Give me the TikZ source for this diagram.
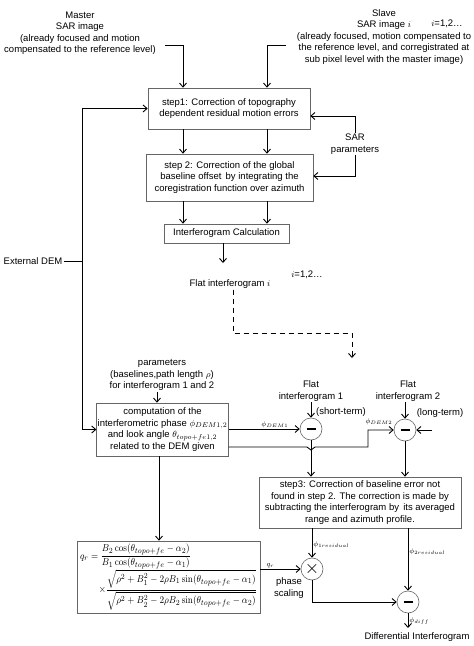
\documentclass[tikz,border=0pt]{standalone}
\usepackage[no-math]{fontspec}
\setmainfont{Liberation Sans}
\usepackage{amsmath}
\usepackage{graphicx}
\usetikzlibrary{arrows.meta,calc}
\begin{document}
\begin{tikzpicture}[x=1pt,y=-1pt,
 every node/.style={font=\fontsize{9.5}{11.5}\selectfont, inner sep=1pt},
 box/.style={draw=black!60, line width=0.6pt, align=center, inner sep=2pt},
 txt/.style={align=center},
 lbl/.style={font=\fontsize{7}{8}\selectfont},
 arr/.style={line width=0.9pt, -{Straight Barb[length=4pt,width=7pt,line width=0.9pt]}},
 ln/.style={line width=0.9pt},
 circ/.style={circle, draw=black!60, line width=0.6pt, minimum size=22pt, inner sep=0pt, fill=white},
]
\useasboundingbox (0,0) rectangle (474,646);

% inputs
\node[txt] (master) at (80,33) {Master\\SAR image\\(already focused and motion\\compensated to the reference level)};
\node[txt] (slave) at (384,37) {Slave\\SAR image $i$\\(already focused, motion compensated to\\the reference level, and corregistrated at\\sub pixel level with the master image)};
\node[txt] (sli) at (447,24) {$i$=1,2\dots};
\coordinate (mA) at (165,45);
\coordinate (sA) at (286,45);
\coordinate (cL) at (183,0);
\coordinate (cR) at (267,0);

% steps 1,2
\node[box, minimum width=162pt, minimum height=41pt] (s1) at (229,108.5) {step1: Correction of topography\\dependent residual motion errors};
\node[box, minimum width=167pt, minimum height=47pt] (s2) at (229.5,177.5) {step 2: Correction of the global\\baseline offset\, by integrating the\\coregistration function over azimuth};
\node[box, minimum width=125pt, minimum height=19pt] (ic) at (226.5,233.5) {Interferogram Calculation};
\node[txt] (sarp) at (355,144) {SAR\\parameters};

\draw[arr] (mA) -| (s1.north -| cL);
\draw[arr] (sA) -| (s1.north -| cR);
\draw[arr] (s1.south -| cL) -- (s2.north -| cL);
\draw[arr] (s1.south -| cR) -- (s2.north -| cR);
\draw[arr] (s2.south -| cL) -- (ic.north -| cL);
\draw[arr] (s2.south -| cR) -- (ic.north -| cR);
\draw[arr] (sarp.north) |- ($(s1.east)+(0,7.5)$);
\draw[arr] (sarp.south) |- ($(s2.east)+(0,-1.5)$);

% flat interferogram i
\node[txt] (flat) at (230,284) {Flat interferogram $i$};
\node[txt] (fi) at (307,275) {$i$=1,2\dots};
\coordinate (fa) at (223,263);
\draw[arr] (ic.south -| fa) -- (fa);
\coordinate (d1) at (233,333);
\coordinate (d2) at (352,358);
\draw[arr, dash pattern=on 5pt off 4pt] (flat.south -| d1) -- (d1) -| (d2);

% parameters and computation
\node[txt] (par) at (162,375) {parameters\\(baselines,path length $\rho$)\\for interferogram 1 and 2};
\node[box, minimum width=127pt, minimum height=53pt, inner sep=1pt] (comp) at (162.5,429.5) {computation of the\\interferometric phase $\phi_{DEM1,2}$\\and look angle $\theta_{topo+fe1,2}$\\related to the DEM given};
\coordinate (pc) at (157,0);
\draw[arr] (par.south -| pc) -- (comp.north -| pc);

% external DEM
\node[txt] (dem) at (33,261) {External DEM};
\coordinate (dv) at (82,261);
\draw[ln] (dem.east) -- (dv);
\draw[arr] (dv) |- (s1.west);
\draw[arr] (dv) |- (comp.west);

% formula
\node[box, minimum width=183pt, minimum height=72pt, inner sep=1pt] (form) at (168.5,577) {\resizebox*{177pt}{66pt}{$\begin{array}{@{}l@{}}
\displaystyle q_r=\frac{B_2\cos(\theta_{topo+fe}-\alpha_2)}{B_1\cos(\theta_{topo+fe}-\alpha_1)}\\[6pt]
\displaystyle\qquad\times\frac{\sqrt{\rho^2+B_1^2-2\rho B_1\sin(\theta_{topo+fe}-\alpha_1)}}{\sqrt{\rho^2+B_2^2-2\rho B_2\sin(\theta_{topo+fe}-\alpha_2)}}
\end{array}$}};
\coordinate (fc) at (159,0);
\draw[arr] (comp.south -| fc) -- (form.north -| fc);

% circles
\node[circ] (c1) at (311,429) {\rule{9pt}{1.3pt}};
\node[circ] (c2) at (405,430) {\rule{9pt}{1.3pt}};
\node[circ] (mul) at (312,569) {\scalebox{2}{$\times$}};
\node[circ] (c3) at (408,602) {\rule{9pt}{1.3pt}};

\node[txt] (f1) at (311,391) {Flat\\interferogram 1};
\node[txt] (st) at (341,412) {(short-term)};
\node[txt] (f2) at (408,391) {Flat\\interferogram 2};
\node[txt] (lt) at (440,413) {(long-term)};
\draw[arr] (f1.south -| c1) -- (c1.north);
\draw[arr] (f2.south -| c2) -- (c2.north);
\coordinate (c2r) at (432,430);
\draw[arr] (c2r) -- (c2.east);

\draw[arr] (comp.east |- c1) -- (c1.west) node[lbl, pos=0.65, above] (lab1) {$\phi_{DEM1}$};
\coordinate (hy) at (0,447);
\coordinate (bend) at (368,0);
\draw[arr] (comp.east |- hy) -- ($(c1 |- hy)+(-4,0)$) -- ($(c1 |- hy)+(0,3)$) -- ($(c1 |- hy)+(4,0)$) -- (bend |- hy) |- (c2.west);
\node[lbl] (lab2) at (379,422) {$\phi_{DEM2}$};

% step 3
\node[box, minimum width=202pt, minimum height=51pt, inner sep=1pt] (s3) at (360,502.5) {step3: Correction of baseline error not\\found in step 2. The correction is made by\\subtracting the interferogram by\, its averaged\\range and azimuth profile.};
\draw[arr] (c1.south) -- (s3.north -| c1);
\draw[arr] (c2.south) -- (s3.north -| c2);
\draw[arr] (s3.south -| mul) -- (mul.north) node[lbl, pos=0.55, right] (lab3) {$\phi_{1residual}$};
\draw[arr] (s3.south -| c3) -- (c3.north) node[lbl, pos=0.38, right] (lab4) {$\phi_{2residual}$};
\draw[arr] (mul.south) |- (c3.west);
\draw[arr] (form.east |- mul) -- (mul.west) node[lbl, pos=0.25, above] (lab5) {$q_r$};
\node[txt] (ps) at (289,588) {phase\\scaling};
\coordinate (dout) at (408,628);
\draw[arr] (c3.south) -- (dout) node[lbl, midway, right] (lab6) {$\phi_{diff}$};
\node[txt] (diff) at (417,637) {Differential Interferogram};
\end{tikzpicture}
\end{document}
